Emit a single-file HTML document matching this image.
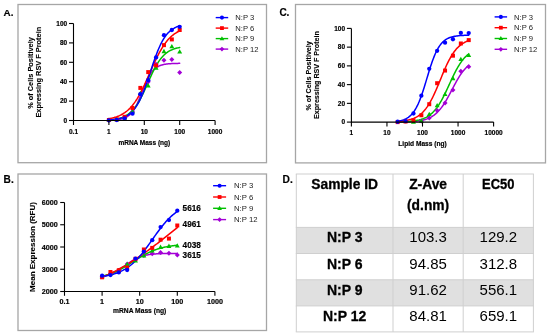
<!DOCTYPE html>
<html><head><meta charset="utf-8"><style>
html,body{margin:0;padding:0;background:#fff;width:550px;height:336px;overflow:hidden;position:relative;}
svg{display:block;will-change:transform}
</style></head>
<body>
<svg width="550" height="336" viewBox="0 0 550 336" font-family='"Liberation Sans", sans-serif' style="position:absolute;left:0;top:0">
<g fill="none" stroke="#a6a6a6" stroke-width="1.3">
<rect x="18" y="4.5" width="248.5" height="158.2"/>
<rect x="18" y="174" width="248.5" height="156.5"/>
<rect x="295.5" y="4.5" width="250" height="158.4"/>
</g>
<text x="3.50" y="16.10" font-size="9.9" font-weight="bold" text-anchor="start" fill="#000" stroke="#000" stroke-width="0.18" >A.</text>
<text x="3.60" y="182.60" font-size="10.1" font-weight="bold" text-anchor="start" fill="#000" stroke="#000" stroke-width="0.18" >B.</text>
<text x="279.40" y="15.70" font-size="10.0" font-weight="bold" text-anchor="start" fill="#000" stroke="#000" stroke-width="0.18" >C.</text>
<text x="282.60" y="182.50" font-size="10.2" font-weight="bold" text-anchor="start" fill="#000" stroke="#000" stroke-width="0.18" >D.</text>
<path d="M108.90,120.34 L109.78,120.31 L110.67,120.28 L111.55,120.25 L112.44,120.20 L113.32,120.15 L114.21,120.09 L115.09,120.02 L115.98,119.94 L116.86,119.85 L117.75,119.74 L118.63,119.62 L119.52,119.47 L120.40,119.30 L121.29,119.10 L122.17,118.86 L123.06,118.60 L123.94,118.28 L124.83,117.93 L125.71,117.51 L126.60,117.03 L127.48,116.49 L128.37,115.86 L129.25,115.14 L130.14,114.33 L131.02,113.41 L131.91,112.38 L132.79,111.23 L133.68,109.94 L134.56,108.52 L135.45,106.97 L136.33,105.28 L137.22,103.46 L138.10,101.53 L138.99,99.49 L139.87,97.36 L140.76,95.17 L141.64,92.94 L142.53,90.70 L143.41,88.47 L144.30,86.28 L145.18,84.16 L146.07,82.13 L146.95,80.20 L147.84,78.39 L148.72,76.71 L149.61,75.17 L150.49,73.76 L151.37,72.48 L152.26,71.33 L153.14,70.31 L154.03,69.39 L154.91,68.59 L155.80,67.88 L156.68,67.26 L157.57,66.72 L158.45,66.24 L159.34,65.83 L160.22,65.48 L161.11,65.17 L161.99,64.90 L162.88,64.67 L163.76,64.47 L164.65,64.30 L165.53,64.16 L166.42,64.03 L167.30,63.92 L168.19,63.83 L169.07,63.75 L169.96,63.68 L170.84,63.63 L171.73,63.58 L172.61,63.53 L173.50,63.50 L174.38,63.47 L175.27,63.44 L176.15,63.42 L177.04,63.40 L177.92,63.38 L178.81,63.37 L179.69,63.35" fill="none" stroke="#a300d6" stroke-width="1.5" stroke-linejoin="round" stroke-linecap="round"/>
<path d="M108.90,119.85 L109.78,119.78 L110.67,119.70 L111.55,119.61 L112.44,119.51 L113.32,119.39 L114.21,119.27 L115.09,119.13 L115.98,118.98 L116.86,118.81 L117.75,118.62 L118.63,118.41 L119.52,118.18 L120.40,117.93 L121.29,117.65 L122.17,117.34 L123.06,116.99 L123.94,116.62 L124.83,116.20 L125.71,115.74 L126.60,115.24 L127.48,114.68 L128.37,114.08 L129.25,113.42 L130.14,112.69 L131.02,111.91 L131.91,111.05 L132.79,110.13 L133.68,109.13 L134.56,108.05 L135.45,106.89 L136.33,105.65 L137.22,104.32 L138.10,102.92 L138.99,101.43 L139.87,99.86 L140.76,98.21 L141.64,96.49 L142.53,94.70 L143.41,92.86 L144.30,90.96 L145.18,89.01 L146.07,87.04 L146.95,85.04 L147.84,83.04 L148.72,81.03 L149.61,79.04 L150.49,77.07 L151.37,75.14 L152.26,73.25 L153.14,71.42 L154.03,69.65 L154.91,67.94 L155.80,66.31 L156.68,64.76 L157.57,63.29 L158.45,61.90 L159.34,60.60 L160.22,59.38 L161.11,58.24 L161.99,57.18 L162.88,56.20 L163.76,55.29 L164.65,54.45 L165.53,53.68 L166.42,52.97 L167.30,52.32 L168.19,51.73 L169.07,51.19 L169.96,50.70 L170.84,50.25 L171.73,49.84 L172.61,49.47 L173.50,49.14 L174.38,48.83 L175.27,48.56 L176.15,48.31 L177.04,48.08 L177.92,47.88 L178.81,47.70 L179.69,47.53" fill="none" stroke="#00c000" stroke-width="1.5" stroke-linejoin="round" stroke-linecap="round"/>
<path d="M108.90,118.67 L109.78,118.51 L110.67,118.34 L111.55,118.15 L112.44,117.95 L113.32,117.73 L114.21,117.49 L115.09,117.23 L115.98,116.95 L116.86,116.65 L117.75,116.32 L118.63,115.97 L119.52,115.59 L120.40,115.18 L121.29,114.73 L122.17,114.25 L123.06,113.74 L123.94,113.18 L124.83,112.59 L125.71,111.95 L126.60,111.26 L127.48,110.53 L128.37,109.74 L129.25,108.90 L130.14,108.00 L131.02,107.05 L131.91,106.04 L132.79,104.96 L133.68,103.83 L134.56,102.62 L135.45,101.36 L136.33,100.02 L137.22,98.62 L138.10,97.16 L138.99,95.63 L139.87,94.04 L140.76,92.38 L141.64,90.67 L142.53,88.90 L143.41,87.09 L144.30,85.22 L145.18,83.32 L146.07,81.38 L146.95,79.41 L147.84,77.42 L148.72,75.42 L149.61,73.41 L150.49,71.39 L151.37,69.39 L152.26,67.40 L153.14,65.42 L154.03,63.48 L154.91,61.57 L155.80,59.70 L156.68,57.87 L157.57,56.09 L158.45,54.37 L159.34,52.71 L160.22,51.10 L161.11,49.56 L161.99,48.08 L162.88,46.67 L163.76,45.32 L164.65,44.04 L165.53,42.83 L166.42,41.68 L167.30,40.59 L168.19,39.57 L169.07,38.60 L169.96,37.69 L170.84,36.84 L171.73,36.05 L172.61,35.30 L173.50,34.61 L174.38,33.96 L175.27,33.35 L176.15,32.79 L177.04,32.27 L177.92,31.78 L178.81,31.33 L179.69,30.91" fill="none" stroke="#ff0000" stroke-width="1.5" stroke-linejoin="round" stroke-linecap="round"/>
<path d="M108.90,119.98 L109.78,119.92 L110.67,119.85 L111.55,119.78 L112.44,119.69 L113.32,119.60 L114.21,119.49 L115.09,119.37 L115.98,119.24 L116.86,119.10 L117.75,118.93 L118.63,118.75 L119.52,118.55 L120.40,118.33 L121.29,118.08 L122.17,117.80 L123.06,117.49 L123.94,117.15 L124.83,116.76 L125.71,116.34 L126.60,115.88 L127.48,115.36 L128.37,114.79 L129.25,114.16 L130.14,113.46 L131.02,112.70 L131.91,111.86 L132.79,110.94 L133.68,109.94 L134.56,108.84 L135.45,107.65 L136.33,106.35 L137.22,104.95 L138.10,103.44 L138.99,101.82 L139.87,100.08 L140.76,98.22 L141.64,96.25 L142.53,94.17 L143.41,91.97 L144.30,89.68 L145.18,87.29 L146.07,84.81 L146.95,82.26 L147.84,79.65 L148.72,76.99 L149.61,74.31 L150.49,71.61 L151.37,68.91 L152.26,66.23 L153.14,63.58 L154.03,60.99 L154.91,58.46 L155.80,56.01 L156.68,53.65 L157.57,51.39 L158.45,49.23 L159.34,47.18 L160.22,45.25 L161.11,43.43 L161.99,41.72 L162.88,40.13 L163.76,38.66 L164.65,37.29 L165.53,36.03 L166.42,34.87 L167.30,33.80 L168.19,32.82 L169.07,31.93 L169.96,31.12 L170.84,30.38 L171.73,29.70 L172.61,29.09 L173.50,28.54 L174.38,28.04 L175.27,27.59 L176.15,27.18 L177.04,26.81 L177.92,26.48 L178.81,26.18 L179.69,25.91" fill="none" stroke="#0000ff" stroke-width="1.5" stroke-linejoin="round" stroke-linecap="round"/>
<path d="M108.90,117.71 L111.40,120.21 L108.90,122.71 L106.40,120.21Z" fill="#a300d6"/>
<path d="M116.77,117.03 L119.27,119.53 L116.77,122.03 L114.27,119.53Z" fill="#a300d6"/>
<path d="M124.63,115.58 L127.13,118.08 L124.63,120.58 L122.13,118.08Z" fill="#a300d6"/>
<path d="M132.50,109.27 L135.00,111.77 L132.50,114.27 L130.00,111.77Z" fill="#a300d6"/>
<path d="M140.36,91.81 L142.86,94.31 L140.36,96.81 L137.86,94.31Z" fill="#a300d6"/>
<path d="M148.23,79.20 L150.73,81.70 L148.23,84.20 L145.73,81.70Z" fill="#a300d6"/>
<path d="M156.09,61.74 L158.59,64.24 L156.09,66.74 L153.59,64.24Z" fill="#a300d6"/>
<path d="M163.96,57.86 L166.46,60.36 L163.96,62.86 L161.46,60.36Z" fill="#a300d6"/>
<path d="M171.83,56.89 L174.33,59.39 L171.83,61.89 L169.33,59.39Z" fill="#a300d6"/>
<path d="M179.69,69.89 L182.19,72.39 L179.69,74.89 L177.19,72.39Z" fill="#a300d6"/>
<path d="M108.90,117.61 L111.37,121.90 L106.43,121.90Z" fill="#00c000"/>
<path d="M116.77,116.93 L119.24,121.22 L114.30,121.22Z" fill="#00c000"/>
<path d="M124.63,115.96 L127.10,120.25 L122.16,120.25Z" fill="#00c000"/>
<path d="M132.50,108.88 L134.97,113.17 L130.03,113.17Z" fill="#00c000"/>
<path d="M140.36,90.74 L142.83,95.03 L137.89,95.03Z" fill="#00c000"/>
<path d="M148.23,83.17 L150.70,87.46 L145.76,87.46Z" fill="#00c000"/>
<path d="M156.09,65.52 L158.56,69.81 L153.62,69.81Z" fill="#00c000"/>
<path d="M163.96,48.84 L166.43,53.13 L161.49,53.13Z" fill="#00c000"/>
<path d="M171.83,43.89 L174.30,48.18 L169.36,48.18Z" fill="#00c000"/>
<path d="M179.69,49.13 L182.16,53.42 L177.22,53.42Z" fill="#00c000"/>
<rect x="106.90" y="118.02" width="4.00" height="4.00" fill="#ff0000"/>
<rect x="114.77" y="117.34" width="4.00" height="4.00" fill="#ff0000"/>
<rect x="122.63" y="114.81" width="4.00" height="4.00" fill="#ff0000"/>
<rect x="130.50" y="105.99" width="4.00" height="4.00" fill="#ff0000"/>
<rect x="138.36" y="85.91" width="4.00" height="4.00" fill="#ff0000"/>
<rect x="146.23" y="70.10" width="4.00" height="4.00" fill="#ff0000"/>
<rect x="154.09" y="63.40" width="4.00" height="4.00" fill="#ff0000"/>
<rect x="161.96" y="43.13" width="4.00" height="4.00" fill="#ff0000"/>
<rect x="169.83" y="37.41" width="4.00" height="4.00" fill="#ff0000"/>
<rect x="177.69" y="28.00" width="4.00" height="4.00" fill="#ff0000"/>
<circle cx="108.90" cy="120.31" r="2.15" fill="#0000ff"/>
<circle cx="116.77" cy="120.02" r="2.15" fill="#0000ff"/>
<circle cx="124.63" cy="118.37" r="2.15" fill="#0000ff"/>
<circle cx="132.50" cy="113.71" r="2.15" fill="#0000ff"/>
<circle cx="140.36" cy="94.21" r="2.15" fill="#0000ff"/>
<circle cx="148.23" cy="80.25" r="2.15" fill="#0000ff"/>
<circle cx="156.09" cy="57.45" r="2.15" fill="#0000ff"/>
<circle cx="163.96" cy="35.14" r="2.15" fill="#0000ff"/>
<circle cx="171.83" cy="30.00" r="2.15" fill="#0000ff"/>
<circle cx="179.69" cy="26.80" r="2.15" fill="#0000ff"/>
<g stroke="#000" stroke-width="1.1" fill="none">
<path d="M73.50,23.50 L73.50,120.50 L215.10,120.50"/>
<path d="M69.00,120.50 H73.50"/>
<path d="M69.00,101.10 H73.50"/>
<path d="M69.00,81.70 H73.50"/>
<path d="M69.00,62.30 H73.50"/>
<path d="M69.00,42.90 H73.50"/>
<path d="M69.00,23.50 H73.50"/>
<path d="M73.50,120.50 V125.00"/>
<path d="M108.90,120.50 V125.00"/>
<path d="M144.30,120.50 V125.00"/>
<path d="M179.70,120.50 V125.00"/>
<path d="M215.10,120.50 V125.00"/>
</g>
<text x="67.20" y="122.84" font-size="6.5" font-weight="bold" text-anchor="end" fill="#000" stroke="#000" stroke-width="0.18" >0</text>
<text x="67.20" y="103.44" font-size="6.5" font-weight="bold" text-anchor="end" fill="#000" stroke="#000" stroke-width="0.18" >20</text>
<text x="67.20" y="84.04" font-size="6.5" font-weight="bold" text-anchor="end" fill="#000" stroke="#000" stroke-width="0.18" >40</text>
<text x="67.20" y="64.64" font-size="6.5" font-weight="bold" text-anchor="end" fill="#000" stroke="#000" stroke-width="0.18" >60</text>
<text x="67.20" y="45.24" font-size="6.5" font-weight="bold" text-anchor="end" fill="#000" stroke="#000" stroke-width="0.18" >80</text>
<text x="67.20" y="25.84" font-size="6.5" font-weight="bold" text-anchor="end" fill="#000" stroke="#000" stroke-width="0.18" >100</text>
<text x="73.50" y="133.80" font-size="6.5" font-weight="bold" text-anchor="middle" fill="#000" stroke="#000" stroke-width="0.18" >0.1</text>
<text x="108.90" y="133.80" font-size="6.5" font-weight="bold" text-anchor="middle" fill="#000" stroke="#000" stroke-width="0.18" >1</text>
<text x="144.30" y="133.80" font-size="6.5" font-weight="bold" text-anchor="middle" fill="#000" stroke="#000" stroke-width="0.18" >10</text>
<text x="179.70" y="133.80" font-size="6.5" font-weight="bold" text-anchor="middle" fill="#000" stroke="#000" stroke-width="0.18" >100</text>
<text x="215.10" y="133.80" font-size="6.5" font-weight="bold" text-anchor="middle" fill="#000" stroke="#000" stroke-width="0.18" >1000</text>
<text x="144.30" y="145.00" font-size="6.5" font-weight="bold" text-anchor="middle" fill="#000" stroke="#000" stroke-width="0.18" >mRNA Mass (ng)</text>
<text transform="translate(33.40,73.00) rotate(-90) scale(1.17,1)" font-size="6.3" font-weight="bold" text-anchor="middle" stroke="#000" stroke-width="0.12">% of Cells Positively</text>
<text transform="translate(41.40,72.20) rotate(-90) scale(1.17,1)" font-size="6.3" font-weight="bold" text-anchor="middle" stroke="#000" stroke-width="0.12">Expressing RSV F Protein</text>
<path d="M215.70,17.60 H228.20" stroke="#0000ff" stroke-width="1.4"/>
<circle cx="221.95" cy="17.60" r="2.04" fill="#0000ff"/>
<text x="235.30" y="20.35" font-size="7.65" font-weight="normal" text-anchor="start" fill="#222" >N:P 3</text>
<path d="M215.70,28.10 H228.20" stroke="#ff0000" stroke-width="1.4"/>
<rect x="220.05" y="26.20" width="3.80" height="3.80" fill="#ff0000"/>
<text x="235.30" y="30.85" font-size="7.65" font-weight="normal" text-anchor="start" fill="#222" >N:P 6</text>
<path d="M215.70,38.60 H228.20" stroke="#00c000" stroke-width="1.4"/>
<path d="M221.95,36.13 L224.30,40.21 L219.60,40.21Z" fill="#00c000"/>
<text x="235.30" y="41.35" font-size="7.65" font-weight="normal" text-anchor="start" fill="#222" >N:P 9</text>
<path d="M215.70,49.10 H228.20" stroke="#a300d6" stroke-width="1.4"/>
<path d="M221.95,46.73 L224.32,49.10 L221.95,51.48 L219.57,49.10Z" fill="#a300d6"/>
<text x="235.30" y="51.85" font-size="7.65" font-weight="normal" text-anchor="start" fill="#222" >N:P 12</text>
<path d="M102.10,276.11 L103.04,275.96 L103.98,275.80 L104.92,275.62 L105.86,275.43 L106.80,275.21 L107.74,274.97 L108.68,274.71 L109.62,274.43 L110.56,274.11 L111.50,273.78 L112.44,273.41 L113.38,273.01 L114.32,272.58 L115.26,272.13 L116.20,271.64 L117.14,271.12 L118.08,270.57 L119.02,270.00 L119.96,269.40 L120.90,268.77 L121.84,268.13 L122.78,267.46 L123.72,266.79 L124.66,266.10 L125.60,265.41 L126.54,264.72 L127.48,264.03 L128.42,263.35 L129.36,262.69 L130.30,262.04 L131.24,261.41 L132.18,260.81 L133.12,260.23 L134.06,259.67 L135.00,259.15 L135.94,258.66 L136.88,258.20 L137.82,257.77 L138.76,257.36 L139.70,256.99 L140.64,256.65 L141.58,256.33 L142.52,256.04 L143.46,255.78 L144.40,255.54 L145.33,255.32 L146.27,255.12 L147.21,254.94 L148.15,254.77 L149.09,254.62 L150.03,254.49 L150.97,254.37 L151.91,254.26 L152.85,254.16 L153.79,254.07 L154.73,254.00 L155.67,253.93 L156.61,253.86 L157.55,253.81 L158.49,253.75 L159.43,253.71 L160.37,253.67 L161.31,253.63 L162.25,253.60 L163.19,253.57 L164.13,253.54 L165.07,253.52 L166.01,253.50 L166.95,253.48 L167.89,253.47 L168.83,253.45 L169.77,253.44 L170.71,253.43 L171.65,253.42 L172.59,253.41 L173.53,253.40 L174.47,253.39 L175.41,253.38 L176.35,253.38 L177.29,253.37" fill="none" stroke="#a300d6" stroke-width="1.5" stroke-linejoin="round" stroke-linecap="round"/>
<path d="M102.10,276.26 L103.04,276.03 L103.98,275.79 L104.92,275.54 L105.86,275.28 L106.80,275.00 L107.74,274.71 L108.68,274.41 L109.62,274.09 L110.56,273.75 L111.50,273.40 L112.44,273.04 L113.38,272.66 L114.32,272.26 L115.26,271.85 L116.20,271.42 L117.14,270.98 L118.08,270.52 L119.02,270.05 L119.96,269.56 L120.90,269.06 L121.84,268.55 L122.78,268.02 L123.72,267.48 L124.66,266.93 L125.60,266.37 L126.54,265.80 L127.48,265.22 L128.42,264.63 L129.36,264.04 L130.30,263.44 L131.24,262.84 L132.18,262.23 L133.12,261.63 L134.06,261.03 L135.00,260.42 L135.94,259.82 L136.88,259.23 L137.82,258.64 L138.76,258.06 L139.70,257.49 L140.64,256.92 L141.58,256.37 L142.52,255.82 L143.46,255.29 L144.40,254.77 L145.33,254.27 L146.27,253.78 L147.21,253.30 L148.15,252.84 L149.09,252.39 L150.03,251.96 L150.97,251.54 L151.91,251.14 L152.85,250.76 L153.79,250.39 L154.73,250.03 L155.67,249.70 L156.61,249.37 L157.55,249.06 L158.49,248.77 L159.43,248.49 L160.37,248.22 L161.31,247.96 L162.25,247.72 L163.19,247.49 L164.13,247.27 L165.07,247.07 L166.01,246.87 L166.95,246.69 L167.89,246.51 L168.83,246.35 L169.77,246.19 L170.71,246.05 L171.65,245.91 L172.59,245.78 L173.53,245.65 L174.47,245.54 L175.41,245.43 L176.35,245.33 L177.29,245.23" fill="none" stroke="#00c000" stroke-width="1.5" stroke-linejoin="round" stroke-linecap="round"/>
<path d="M102.10,277.38 L103.04,276.96 L103.98,276.55 L104.92,276.12 L105.86,275.69 L106.80,275.25 L107.74,274.81 L108.68,274.36 L109.62,273.91 L110.56,273.45 L111.50,272.98 L112.44,272.51 L113.38,272.03 L114.32,271.55 L115.26,271.06 L116.20,270.57 L117.14,270.07 L118.08,269.56 L119.02,269.05 L119.96,268.53 L120.90,268.00 L121.84,267.47 L122.78,266.94 L123.72,266.39 L124.66,265.85 L125.60,265.29 L126.54,264.73 L127.48,264.17 L128.42,263.59 L129.36,263.02 L130.30,262.43 L131.24,261.85 L132.18,261.25 L133.12,260.65 L134.06,260.05 L135.00,259.43 L135.94,258.82 L136.88,258.20 L137.82,257.57 L138.76,256.94 L139.70,256.30 L140.64,255.65 L141.58,255.01 L142.52,254.35 L143.46,253.69 L144.40,253.03 L145.33,252.36 L146.27,251.69 L147.21,251.01 L148.15,250.33 L149.09,249.64 L150.03,248.95 L150.97,248.26 L151.91,247.56 L152.85,246.86 L153.79,246.15 L154.73,245.44 L155.67,244.72 L156.61,244.00 L157.55,243.28 L158.49,242.56 L159.43,241.83 L160.37,241.10 L161.31,240.36 L162.25,239.62 L163.19,238.88 L164.13,238.14 L165.07,237.39 L166.01,236.65 L166.95,235.90 L167.89,235.15 L168.83,234.39 L169.77,233.64 L170.71,232.88 L171.65,232.12 L172.59,231.36 L173.53,230.60 L174.47,229.84 L175.41,229.08 L176.35,228.31 L177.29,227.55" fill="none" stroke="#ff0000" stroke-width="1.5" stroke-linejoin="round" stroke-linecap="round"/>
<path d="M102.10,276.49 L103.04,276.36 L103.98,276.22 L104.92,276.07 L105.86,275.90 L106.80,275.73 L107.74,275.55 L108.68,275.35 L109.62,275.14 L110.56,274.92 L111.50,274.69 L112.44,274.43 L113.38,274.17 L114.32,273.88 L115.26,273.58 L116.20,273.26 L117.14,272.92 L118.08,272.56 L119.02,272.17 L119.96,271.77 L120.90,271.34 L121.84,270.88 L122.78,270.40 L123.72,269.89 L124.66,269.36 L125.60,268.79 L126.54,268.20 L127.48,267.58 L128.42,266.92 L129.36,266.23 L130.30,265.51 L131.24,264.75 L132.18,263.96 L133.12,263.13 L134.06,262.27 L135.00,261.37 L135.94,260.44 L136.88,259.47 L137.82,258.47 L138.76,257.43 L139.70,256.36 L140.64,255.26 L141.58,254.13 L142.52,252.97 L143.46,251.78 L144.40,250.56 L145.33,249.32 L146.27,248.06 L147.21,246.78 L148.15,245.48 L149.09,244.17 L150.03,242.85 L150.97,241.52 L151.91,240.18 L152.85,238.85 L153.79,237.51 L154.73,236.18 L155.67,234.86 L156.61,233.55 L157.55,232.25 L158.49,230.97 L159.43,229.71 L160.37,228.47 L161.31,227.26 L162.25,226.07 L163.19,224.91 L164.13,223.77 L165.07,222.67 L166.01,221.61 L166.95,220.57 L167.89,219.57 L168.83,218.60 L169.77,217.67 L170.71,216.78 L171.65,215.92 L172.59,215.09 L173.53,214.30 L174.47,213.55 L175.41,212.82 L176.35,212.14 L177.29,211.48" fill="none" stroke="#0000ff" stroke-width="1.5" stroke-linejoin="round" stroke-linecap="round"/>
<path d="M102.10,274.00 L104.60,276.50 L102.10,279.00 L99.60,276.50Z" fill="#a300d6"/>
<path d="M110.45,271.00 L112.95,273.50 L110.45,276.00 L107.95,273.50Z" fill="#a300d6"/>
<path d="M118.81,268.00 L121.31,270.50 L118.81,273.00 L116.31,270.50Z" fill="#a300d6"/>
<path d="M127.16,261.40 L129.66,263.90 L127.16,266.40 L124.66,263.90Z" fill="#a300d6"/>
<path d="M135.52,257.00 L138.02,259.50 L135.52,262.00 L133.02,259.50Z" fill="#a300d6"/>
<path d="M143.87,253.00 L146.37,255.50 L143.87,258.00 L141.37,255.50Z" fill="#a300d6"/>
<path d="M152.23,251.30 L154.73,253.80 L152.23,256.30 L149.73,253.80Z" fill="#a300d6"/>
<path d="M160.58,250.00 L163.08,252.50 L160.58,255.00 L158.08,252.50Z" fill="#a300d6"/>
<path d="M168.94,250.80 L171.44,253.30 L168.94,255.80 L166.44,253.30Z" fill="#a300d6"/>
<path d="M177.29,252.40 L179.79,254.90 L177.29,257.40 L174.79,254.90Z" fill="#a300d6"/>
<path d="M102.10,273.90 L104.57,278.19 L99.63,278.19Z" fill="#00c000"/>
<path d="M110.45,270.90 L112.92,275.19 L107.98,275.19Z" fill="#00c000"/>
<path d="M118.81,267.90 L121.28,272.19 L116.34,272.19Z" fill="#00c000"/>
<path d="M127.16,261.80 L129.63,266.09 L124.69,266.09Z" fill="#00c000"/>
<path d="M135.52,258.20 L137.99,262.49 L133.05,262.49Z" fill="#00c000"/>
<path d="M143.87,253.10 L146.34,257.39 L141.40,257.39Z" fill="#00c000"/>
<path d="M152.23,248.20 L154.70,252.49 L149.76,252.49Z" fill="#00c000"/>
<path d="M160.58,244.60 L163.05,248.89 L158.11,248.89Z" fill="#00c000"/>
<path d="M168.94,243.60 L171.41,247.89 L166.47,247.89Z" fill="#00c000"/>
<path d="M177.29,243.30 L179.76,247.59 L174.82,247.59Z" fill="#00c000"/>
<rect x="100.10" y="275.30" width="4.00" height="4.00" fill="#ff0000"/>
<rect x="108.45" y="270.00" width="4.00" height="4.00" fill="#ff0000"/>
<rect x="116.81" y="268.20" width="4.00" height="4.00" fill="#ff0000"/>
<rect x="125.16" y="265.50" width="4.00" height="4.00" fill="#ff0000"/>
<rect x="133.52" y="256.80" width="4.00" height="4.00" fill="#ff0000"/>
<rect x="141.87" y="247.50" width="4.00" height="4.00" fill="#ff0000"/>
<rect x="150.23" y="245.90" width="4.00" height="4.00" fill="#ff0000"/>
<rect x="158.58" y="237.70" width="4.00" height="4.00" fill="#ff0000"/>
<rect x="166.94" y="236.60" width="4.00" height="4.00" fill="#ff0000"/>
<rect x="175.29" y="223.50" width="4.00" height="4.00" fill="#ff0000"/>
<circle cx="102.10" cy="275.70" r="2.15" fill="#0000ff"/>
<circle cx="110.45" cy="275.10" r="2.15" fill="#0000ff"/>
<circle cx="118.81" cy="272.40" r="2.15" fill="#0000ff"/>
<circle cx="127.16" cy="270.00" r="2.15" fill="#0000ff"/>
<circle cx="135.52" cy="258.60" r="2.15" fill="#0000ff"/>
<circle cx="143.87" cy="251.60" r="2.15" fill="#0000ff"/>
<circle cx="152.23" cy="240.20" r="2.15" fill="#0000ff"/>
<circle cx="160.58" cy="227.10" r="2.15" fill="#0000ff"/>
<circle cx="168.94" cy="220.10" r="2.15" fill="#0000ff"/>
<circle cx="177.29" cy="210.70" r="2.15" fill="#0000ff"/>
<g stroke="#000" stroke-width="1.1" fill="none">
<path d="M64.50,202.50 L64.50,291.50 L214.90,291.50"/>
<path d="M60.20,291.50 H64.50"/>
<path d="M60.20,269.25 H64.50"/>
<path d="M60.20,247.00 H64.50"/>
<path d="M60.20,224.75 H64.50"/>
<path d="M60.20,202.50 H64.50"/>
<path d="M64.50,291.50 V295.80"/>
<path d="M102.10,291.50 V295.80"/>
<path d="M139.70,291.50 V295.80"/>
<path d="M177.30,291.50 V295.80"/>
<path d="M214.90,291.50 V295.80"/>
</g>
<text x="57.80" y="294.09" font-size="7.2" font-weight="bold" text-anchor="end" fill="#000" stroke="#000" stroke-width="0.18" >2000</text>
<text x="57.80" y="271.84" font-size="7.2" font-weight="bold" text-anchor="end" fill="#000" stroke="#000" stroke-width="0.18" >3000</text>
<text x="57.80" y="249.59" font-size="7.2" font-weight="bold" text-anchor="end" fill="#000" stroke="#000" stroke-width="0.18" >4000</text>
<text x="57.80" y="227.34" font-size="7.2" font-weight="bold" text-anchor="end" fill="#000" stroke="#000" stroke-width="0.18" >5000</text>
<text x="57.80" y="205.09" font-size="7.2" font-weight="bold" text-anchor="end" fill="#000" stroke="#000" stroke-width="0.18" >6000</text>
<text x="64.50" y="304.30" font-size="7.2" font-weight="bold" text-anchor="middle" fill="#000" stroke="#000" stroke-width="0.18" >0.1</text>
<text x="102.10" y="304.30" font-size="7.2" font-weight="bold" text-anchor="middle" fill="#000" stroke="#000" stroke-width="0.18" >1</text>
<text x="139.70" y="304.30" font-size="7.2" font-weight="bold" text-anchor="middle" fill="#000" stroke="#000" stroke-width="0.18" >10</text>
<text x="177.30" y="304.30" font-size="7.2" font-weight="bold" text-anchor="middle" fill="#000" stroke="#000" stroke-width="0.18" >100</text>
<text x="214.90" y="304.30" font-size="7.2" font-weight="bold" text-anchor="middle" fill="#000" stroke="#000" stroke-width="0.18" >1000</text>
<text x="139.70" y="312.90" font-size="6.7" font-weight="bold" text-anchor="middle" fill="#000" stroke="#000" stroke-width="0.18" >mRNA Mass (ng)</text>
<text transform="translate(35.00,247.00) rotate(-90) scale(1,1)" font-size="8.0" font-weight="bold" text-anchor="middle" stroke="#000" stroke-width="0.12">Mean Expression (RFU)</text>
<path d="M213.10,185.70 H226.10" stroke="#0000ff" stroke-width="1.4"/>
<circle cx="219.60" cy="185.70" r="2.04" fill="#0000ff"/>
<text x="234.00" y="188.49" font-size="7.75" font-weight="normal" text-anchor="start" fill="#222" >N:P 3</text>
<path d="M213.10,197.00 H226.10" stroke="#ff0000" stroke-width="1.4"/>
<rect x="217.70" y="195.10" width="3.80" height="3.80" fill="#ff0000"/>
<text x="234.00" y="199.79" font-size="7.75" font-weight="normal" text-anchor="start" fill="#222" >N:P 6</text>
<path d="M213.10,208.30 H226.10" stroke="#00c000" stroke-width="1.4"/>
<path d="M219.60,205.83 L221.95,209.91 L217.25,209.91Z" fill="#00c000"/>
<text x="234.00" y="211.09" font-size="7.75" font-weight="normal" text-anchor="start" fill="#222" >N:P 9</text>
<path d="M213.10,219.60 H226.10" stroke="#a300d6" stroke-width="1.4"/>
<path d="M219.60,217.22 L221.97,219.60 L219.60,221.97 L217.22,219.60Z" fill="#a300d6"/>
<text x="234.00" y="222.39" font-size="7.75" font-weight="normal" text-anchor="start" fill="#222" >N:P 12</text>
<path d="M397.65,121.99 L398.54,121.98 L399.43,121.97 L400.32,121.95 L401.21,121.94 L402.09,121.92 L402.98,121.90 L403.87,121.88 L404.76,121.85 L405.65,121.83 L406.54,121.80 L407.43,121.76 L408.32,121.73 L409.20,121.68 L410.09,121.64 L410.98,121.59 L411.87,121.53 L412.76,121.47 L413.65,121.40 L414.54,121.33 L415.42,121.24 L416.31,121.15 L417.20,121.04 L418.09,120.93 L418.98,120.80 L419.87,120.66 L420.76,120.51 L421.65,120.34 L422.53,120.15 L423.42,119.94 L424.31,119.71 L425.20,119.46 L426.09,119.18 L426.98,118.87 L427.87,118.53 L428.75,118.16 L429.64,117.76 L430.53,117.31 L431.42,116.83 L432.31,116.30 L433.20,115.72 L434.09,115.09 L434.97,114.41 L435.86,113.67 L436.75,112.87 L437.64,112.01 L438.53,111.09 L439.42,110.10 L440.31,109.04 L441.20,107.91 L442.08,106.72 L442.97,105.45 L443.86,104.13 L444.75,102.74 L445.64,101.29 L446.53,99.78 L447.42,98.22 L448.30,96.63 L449.19,94.99 L450.08,93.33 L450.97,91.65 L451.86,89.96 L452.75,88.26 L453.64,86.58 L454.52,84.91 L455.41,83.27 L456.30,81.66 L457.19,80.10 L458.08,78.58 L458.97,77.11 L459.86,75.71 L460.75,74.37 L461.63,73.09 L462.52,71.88 L463.41,70.74 L464.30,69.67 L465.19,68.66 L466.08,67.72 L466.97,66.85 L467.85,66.03 L468.74,65.28" fill="none" stroke="#a300d6" stroke-width="1.5" stroke-linejoin="round" stroke-linecap="round"/>
<path d="M397.65,121.91 L398.54,121.89 L399.43,121.87 L400.32,121.85 L401.21,121.82 L402.09,121.79 L402.98,121.75 L403.87,121.72 L404.76,121.68 L405.65,121.63 L406.54,121.58 L407.43,121.52 L408.32,121.46 L409.20,121.39 L410.09,121.32 L410.98,121.23 L411.87,121.14 L412.76,121.04 L413.65,120.92 L414.54,120.80 L415.42,120.66 L416.31,120.50 L417.20,120.33 L418.09,120.14 L418.98,119.94 L419.87,119.71 L420.76,119.46 L421.65,119.18 L422.53,118.88 L423.42,118.55 L424.31,118.18 L425.20,117.78 L426.09,117.34 L426.98,116.85 L427.87,116.33 L428.75,115.75 L429.64,115.12 L430.53,114.44 L431.42,113.70 L432.31,112.90 L433.20,112.03 L434.09,111.10 L434.97,110.09 L435.86,109.01 L436.75,107.86 L437.64,106.63 L438.53,105.32 L439.42,103.93 L440.31,102.47 L441.20,100.94 L442.08,99.33 L442.97,97.66 L443.86,95.92 L444.75,94.13 L445.64,92.30 L446.53,90.42 L447.42,88.51 L448.30,86.58 L449.19,84.64 L450.08,82.70 L450.97,80.77 L451.86,78.86 L452.75,76.98 L453.64,75.13 L454.52,73.34 L455.41,71.60 L456.30,69.91 L457.19,68.30 L458.08,66.75 L458.97,65.28 L459.86,63.88 L460.75,62.56 L461.63,61.32 L462.52,60.16 L463.41,59.06 L464.30,58.05 L465.19,57.10 L466.08,56.23 L466.97,55.41 L467.85,54.66 L468.74,53.97" fill="none" stroke="#00c000" stroke-width="1.5" stroke-linejoin="round" stroke-linecap="round"/>
<path d="M397.65,121.48 L398.54,121.41 L399.43,121.34 L400.32,121.26 L401.21,121.17 L402.09,121.07 L402.98,120.96 L403.87,120.84 L404.76,120.71 L405.65,120.56 L406.54,120.40 L407.43,120.22 L408.32,120.03 L409.20,119.81 L410.09,119.57 L410.98,119.31 L411.87,119.02 L412.76,118.70 L413.65,118.35 L414.54,117.96 L415.42,117.54 L416.31,117.08 L417.20,116.57 L418.09,116.02 L418.98,115.42 L419.87,114.76 L420.76,114.05 L421.65,113.27 L422.53,112.43 L423.42,111.52 L424.31,110.53 L425.20,109.47 L426.09,108.34 L426.98,107.12 L427.87,105.81 L428.75,104.43 L429.64,102.95 L430.53,101.40 L431.42,99.76 L432.31,98.04 L433.20,96.24 L434.09,94.37 L434.97,92.43 L435.86,90.43 L436.75,88.38 L437.64,86.28 L438.53,84.16 L439.42,82.01 L440.31,79.85 L441.20,77.68 L442.08,75.53 L442.97,73.41 L443.86,71.31 L444.75,69.26 L445.64,67.26 L446.53,65.31 L447.42,63.44 L448.30,61.64 L449.19,59.91 L450.08,58.27 L450.97,56.71 L451.86,55.23 L452.75,53.84 L453.64,52.53 L454.52,51.31 L455.41,50.17 L456.30,49.10 L457.19,48.12 L458.08,47.20 L458.97,46.36 L459.86,45.58 L460.75,44.86 L461.63,44.20 L462.52,43.60 L463.41,43.04 L464.30,42.53 L465.19,42.07 L466.08,41.65 L466.97,41.26 L467.85,40.91 L468.74,40.59" fill="none" stroke="#ff0000" stroke-width="1.5" stroke-linejoin="round" stroke-linecap="round"/>
<path d="M397.65,121.13 L398.54,120.99 L399.43,120.82 L400.32,120.64 L401.21,120.43 L402.09,120.19 L402.98,119.92 L403.87,119.61 L404.76,119.26 L405.65,118.86 L406.54,118.41 L407.43,117.90 L408.32,117.32 L409.20,116.66 L410.09,115.92 L410.98,115.09 L411.87,114.16 L412.76,113.12 L413.65,111.96 L414.54,110.67 L415.42,109.25 L416.31,107.68 L417.20,105.96 L418.09,104.09 L418.98,102.07 L419.87,99.89 L420.76,97.56 L421.65,95.08 L422.53,92.48 L423.42,89.76 L424.31,86.94 L425.20,84.05 L426.09,81.11 L426.98,78.14 L427.87,75.18 L428.75,72.25 L429.64,69.38 L430.53,66.59 L431.42,63.90 L432.31,61.34 L433.20,58.91 L434.09,56.62 L434.97,54.49 L435.86,52.51 L436.75,50.68 L437.64,49.01 L438.53,47.49 L439.42,46.11 L440.31,44.86 L441.20,43.74 L442.08,42.73 L442.97,41.83 L443.86,41.03 L444.75,40.31 L445.64,39.68 L446.53,39.12 L447.42,38.63 L448.30,38.19 L449.19,37.81 L450.08,37.47 L450.97,37.17 L451.86,36.91 L452.75,36.68 L453.64,36.48 L454.52,36.30 L455.41,36.15 L456.30,36.01 L457.19,35.90 L458.08,35.79 L458.97,35.70 L459.86,35.62 L460.75,35.56 L461.63,35.49 L462.52,35.44 L463.41,35.40 L464.30,35.36 L465.19,35.32 L466.08,35.29 L466.97,35.26 L467.85,35.24 L468.74,35.22" fill="none" stroke="#0000ff" stroke-width="1.5" stroke-linejoin="round" stroke-linecap="round"/>
<path d="M421.35,118.48 L423.85,120.98 L421.35,123.48 L418.85,120.98Z" fill="#a300d6"/>
<path d="M429.25,115.48 L431.75,117.98 L429.25,120.48 L426.75,117.98Z" fill="#a300d6"/>
<path d="M437.15,107.98 L439.65,110.48 L437.15,112.98 L434.65,110.48Z" fill="#a300d6"/>
<path d="M445.05,100.49 L447.55,102.99 L445.05,105.49 L442.55,102.99Z" fill="#a300d6"/>
<path d="M452.95,87.46 L455.45,89.96 L452.95,92.46 L450.45,89.96Z" fill="#a300d6"/>
<path d="M460.84,68.72 L463.34,71.22 L460.84,73.72 L458.34,71.22Z" fill="#a300d6"/>
<path d="M468.74,64.13 L471.24,66.63 L468.74,69.13 L466.24,66.63Z" fill="#a300d6"/>
<path d="M413.45,119.50 L415.92,123.79 L410.98,123.79Z" fill="#00c000"/>
<path d="M421.35,118.38 L423.82,122.67 L418.88,122.67Z" fill="#00c000"/>
<path d="M429.25,111.82 L431.72,116.11 L426.78,116.11Z" fill="#00c000"/>
<path d="M437.15,103.01 L439.62,107.30 L434.68,107.30Z" fill="#00c000"/>
<path d="M445.05,91.76 L447.52,96.05 L442.58,96.05Z" fill="#00c000"/>
<path d="M452.95,75.84 L455.42,80.13 L450.48,80.13Z" fill="#00c000"/>
<path d="M460.84,56.81 L463.31,61.10 L458.37,61.10Z" fill="#00c000"/>
<path d="M468.74,52.79 L471.21,57.08 L466.27,57.08Z" fill="#00c000"/>
<rect x="395.65" y="120.10" width="4.00" height="4.00" fill="#ff0000"/>
<rect x="403.55" y="119.54" width="4.00" height="4.00" fill="#ff0000"/>
<rect x="411.45" y="118.32" width="4.00" height="4.00" fill="#ff0000"/>
<rect x="419.35" y="113.26" width="4.00" height="4.00" fill="#ff0000"/>
<rect x="427.25" y="102.20" width="4.00" height="4.00" fill="#ff0000"/>
<rect x="435.15" y="81.21" width="4.00" height="4.00" fill="#ff0000"/>
<rect x="443.05" y="68.56" width="4.00" height="4.00" fill="#ff0000"/>
<rect x="450.95" y="53.67" width="4.00" height="4.00" fill="#ff0000"/>
<rect x="458.84" y="41.49" width="4.00" height="4.00" fill="#ff0000"/>
<rect x="466.74" y="38.11" width="4.00" height="4.00" fill="#ff0000"/>
<circle cx="397.65" cy="121.73" r="2.15" fill="#0000ff"/>
<circle cx="405.55" cy="121.16" r="2.15" fill="#0000ff"/>
<circle cx="413.45" cy="113.48" r="2.15" fill="#0000ff"/>
<circle cx="421.35" cy="95.68" r="2.15" fill="#0000ff"/>
<circle cx="429.25" cy="68.78" r="2.15" fill="#0000ff"/>
<circle cx="437.15" cy="50.79" r="2.15" fill="#0000ff"/>
<circle cx="445.05" cy="42.64" r="2.15" fill="#0000ff"/>
<circle cx="452.95" cy="39.27" r="2.15" fill="#0000ff"/>
<circle cx="460.84" cy="32.90" r="2.15" fill="#0000ff"/>
<circle cx="468.74" cy="33.08" r="2.15" fill="#0000ff"/>
<g stroke="#000" stroke-width="1.1" fill="none">
<path d="M351.40,28.40 L351.40,122.10 L493.60,122.10"/>
<path d="M346.90,122.10 H351.40"/>
<path d="M346.90,103.36 H351.40"/>
<path d="M346.90,84.62 H351.40"/>
<path d="M346.90,65.88 H351.40"/>
<path d="M346.90,47.14 H351.40"/>
<path d="M346.90,28.40 H351.40"/>
<path d="M351.40,122.10 V126.60"/>
<path d="M386.95,122.10 V126.60"/>
<path d="M422.50,122.10 V126.60"/>
<path d="M458.05,122.10 V126.60"/>
<path d="M493.60,122.10 V126.60"/>
</g>
<text x="345.10" y="124.44" font-size="6.5" font-weight="bold" text-anchor="end" fill="#000" stroke="#000" stroke-width="0.18" >0</text>
<text x="345.10" y="105.70" font-size="6.5" font-weight="bold" text-anchor="end" fill="#000" stroke="#000" stroke-width="0.18" >20</text>
<text x="345.10" y="86.96" font-size="6.5" font-weight="bold" text-anchor="end" fill="#000" stroke="#000" stroke-width="0.18" >40</text>
<text x="345.10" y="68.22" font-size="6.5" font-weight="bold" text-anchor="end" fill="#000" stroke="#000" stroke-width="0.18" >60</text>
<text x="345.10" y="49.48" font-size="6.5" font-weight="bold" text-anchor="end" fill="#000" stroke="#000" stroke-width="0.18" >80</text>
<text x="345.10" y="30.74" font-size="6.5" font-weight="bold" text-anchor="end" fill="#000" stroke="#000" stroke-width="0.18" >100</text>
<text x="351.40" y="135.10" font-size="6.5" font-weight="bold" text-anchor="middle" fill="#000" stroke="#000" stroke-width="0.18" >1</text>
<text x="386.95" y="135.10" font-size="6.5" font-weight="bold" text-anchor="middle" fill="#000" stroke="#000" stroke-width="0.18" >10</text>
<text x="422.50" y="135.10" font-size="6.5" font-weight="bold" text-anchor="middle" fill="#000" stroke="#000" stroke-width="0.18" >100</text>
<text x="458.05" y="135.10" font-size="6.5" font-weight="bold" text-anchor="middle" fill="#000" stroke="#000" stroke-width="0.18" >1000</text>
<text x="493.60" y="135.10" font-size="6.5" font-weight="bold" text-anchor="middle" fill="#000" stroke="#000" stroke-width="0.18" >10000</text>
<text x="422.50" y="146.00" font-size="6.6" font-weight="bold" text-anchor="middle" fill="#000" stroke="#000" stroke-width="0.18" >Lipid Mass (ng)</text>
<text transform="translate(310.50,75.85) rotate(-90) scale(1.13,1)" font-size="6.3" font-weight="bold" text-anchor="middle" stroke="#000" stroke-width="0.12">% of Cells Positively</text>
<text transform="translate(319.20,75.05) rotate(-90) scale(1.13,1)" font-size="6.3" font-weight="bold" text-anchor="middle" stroke="#000" stroke-width="0.12">Expressing RSV F Protein</text>
<path d="M494.60,16.90 H507.10" stroke="#0000ff" stroke-width="1.4"/>
<circle cx="500.85" cy="16.90" r="2.04" fill="#0000ff"/>
<text x="514.00" y="19.65" font-size="7.65" font-weight="normal" text-anchor="start" fill="#222" >N:P 3</text>
<path d="M494.60,27.70 H507.10" stroke="#ff0000" stroke-width="1.4"/>
<rect x="498.95" y="25.80" width="3.80" height="3.80" fill="#ff0000"/>
<text x="514.00" y="30.45" font-size="7.65" font-weight="normal" text-anchor="start" fill="#222" >N:P 6</text>
<path d="M494.60,38.50 H507.10" stroke="#00c000" stroke-width="1.4"/>
<path d="M500.85,36.03 L503.20,40.11 L498.50,40.11Z" fill="#00c000"/>
<text x="514.00" y="41.25" font-size="7.65" font-weight="normal" text-anchor="start" fill="#222" >N:P 9</text>
<path d="M494.60,49.30 H507.10" stroke="#a300d6" stroke-width="1.4"/>
<path d="M500.85,46.93 L503.23,49.30 L500.85,51.68 L498.48,49.30Z" fill="#a300d6"/>
<text x="514.00" y="52.05" font-size="7.65" font-weight="normal" text-anchor="start" fill="#222" >N:P 12</text>
<text x="182.60" y="211.45" font-size="8.2" font-weight="bold" text-anchor="start" fill="#000" stroke="#000" stroke-width="0.18" >5616</text>
<text x="182.60" y="226.65" font-size="8.2" font-weight="bold" text-anchor="start" fill="#000" stroke="#000" stroke-width="0.18" >4961</text>
<text x="182.60" y="248.35" font-size="8.2" font-weight="bold" text-anchor="start" fill="#000" stroke="#000" stroke-width="0.18" >4038</text>
<text x="182.60" y="258.45" font-size="8.2" font-weight="bold" text-anchor="start" fill="#000" stroke="#000" stroke-width="0.18" >3615</text>
<rect x="296.3" y="227.4" width="237.09999999999997" height="26.099999999999994" fill="#e0e0e0"/>
<rect x="296.3" y="279.8" width="237.09999999999997" height="26.099999999999966" fill="#e0e0e0"/>
<g stroke="#cfcfcf" stroke-width="1" fill="none">
<path d="M295.8,174.0 H533.9"/>
<path d="M295.8,227.4 H533.9"/>
<path d="M295.8,253.5 H533.9"/>
<path d="M295.8,279.8 H533.9"/>
<path d="M295.8,305.9 H533.9"/>
<path d="M295.8,331.9 H533.9"/>
<path d="M296.3,174.0 V331.9"/>
<path d="M393.0,174.0 V331.9"/>
<path d="M463.2,174.0 V331.9"/>
<path d="M533.4,174.0 V331.9"/>
</g>
<text x="0" y="0" transform="translate(344.65,189.20) scale(1.0,1)" font-size="13.8" font-weight="bold" text-anchor="middle" fill="#000" stroke="#000" stroke-width="0.3">Sample ID</text>
<text x="0" y="0" transform="translate(428.10,189.40) scale(1.0,1)" font-size="13.8" font-weight="bold" text-anchor="middle" fill="#000" stroke="#000" stroke-width="0.3">Z-Ave</text>
<text x="0" y="0" transform="translate(428.10,209.60) scale(1.0,1)" font-size="13.8" font-weight="bold" text-anchor="middle" fill="#000" stroke="#000" stroke-width="0.3">(d.nm)</text>
<text x="0" y="0" transform="translate(498.30,189.20) scale(0.94,1)" font-size="13.8" font-weight="bold" text-anchor="middle" fill="#000" stroke="#000" stroke-width="0.3">EC50</text>
<text x="0" y="0" transform="translate(344.65,242.40) scale(1.0,1)" font-size="14.0" font-weight="bold" text-anchor="middle" fill="#000" stroke="#000" stroke-width="0.3">N:P 3</text>
<text x="0" y="0" transform="translate(428.10,242.40) scale(1.0,1)" font-size="15.0" font-weight="normal" text-anchor="middle" fill="#000">103.3</text>
<text x="0" y="0" transform="translate(498.30,242.40) scale(1.0,1)" font-size="15.0" font-weight="normal" text-anchor="middle" fill="#000">129.2</text>
<text x="0" y="0" transform="translate(344.65,268.50) scale(1.0,1)" font-size="14.0" font-weight="bold" text-anchor="middle" fill="#000" stroke="#000" stroke-width="0.3">N:P 6</text>
<text x="0" y="0" transform="translate(428.10,268.50) scale(1.0,1)" font-size="15.0" font-weight="normal" text-anchor="middle" fill="#000">94.85</text>
<text x="0" y="0" transform="translate(498.30,268.50) scale(1.0,1)" font-size="15.0" font-weight="normal" text-anchor="middle" fill="#000">312.8</text>
<text x="0" y="0" transform="translate(344.65,294.80) scale(1.0,1)" font-size="14.0" font-weight="bold" text-anchor="middle" fill="#000" stroke="#000" stroke-width="0.3">N:P 9</text>
<text x="0" y="0" transform="translate(428.10,294.80) scale(1.0,1)" font-size="15.0" font-weight="normal" text-anchor="middle" fill="#000">91.62</text>
<text x="0" y="0" transform="translate(498.30,294.80) scale(1.0,1)" font-size="15.0" font-weight="normal" text-anchor="middle" fill="#000">556.1</text>
<text x="0" y="0" transform="translate(344.65,320.90) scale(1.0,1)" font-size="14.0" font-weight="bold" text-anchor="middle" fill="#000" stroke="#000" stroke-width="0.3">N:P 12</text>
<text x="0" y="0" transform="translate(428.10,320.90) scale(1.0,1)" font-size="15.0" font-weight="normal" text-anchor="middle" fill="#000">84.81</text>
<text x="0" y="0" transform="translate(498.30,320.90) scale(1.0,1)" font-size="15.0" font-weight="normal" text-anchor="middle" fill="#000">659.1</text>
</svg>
</body></html>
